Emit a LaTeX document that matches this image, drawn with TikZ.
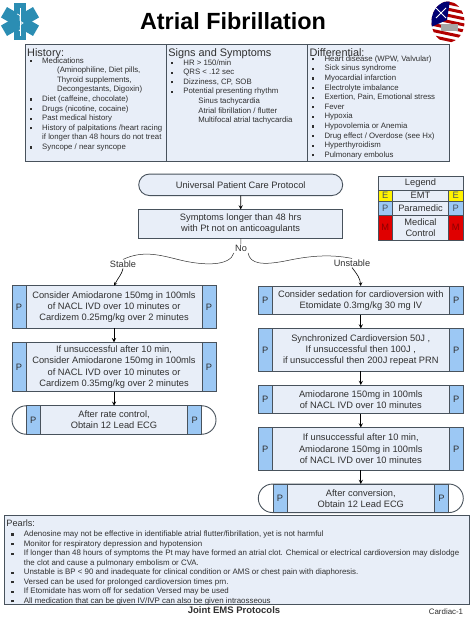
\documentclass[tikz,border=0pt]{standalone}
\usepackage{fontspec}
\setmainfont{Liberation Sans}
\usetikzlibrary{positioning}
\usetikzlibrary{shapes.misc}
\definecolor{boxfill}{HTML}{E8EEF8}
\definecolor{boxline}{HTML}{48525C}
\definecolor{pfill}{HTML}{9CC8F4}
\definecolor{inktext}{HTML}{303030}
\definecolor{starblue}{HTML}{2B8DB3}
\newcommand{\itm}[1][12.5pt]{\makebox[#1][l]{\rule[0.9pt]{2.1pt}{2.1pt}}}
\tikzset {
  flow node/.style = {
    draw = boxline,
    line width = 0.9pt,
    fill = boxfill,
    text = inktext,
    outer sep = 0,
    inner sep = 0,
    align = center,
    font = \fontsize{9.3}{11.2}\selectfont
  },
  % action box between the two side cells
  action/.style = {
    flow node,
    rectangle,
    minimum width = #1
  },
  % rounded start and end shapes
  term/.style = {
    flow node,
    rounded rectangle,
    minimum width = 204pt
  },
  pcell/.style = {
    flow node,
    rectangle,
    fill = pfill,
    minimum width = 14pt,
    font = \fontsize{9.3}{10}\selectfont\color{boxline}
  },
  % the three frames at the top and the pearls
  listbox/.style = {
    flow node,
    rectangle,
    anchor = north west,
    minimum width = #1
  },
  listtext/.style = {
    anchor = north west,
    align = left,
    inner sep = 0,
    text = inktext,
    font = \fontsize{7.8}{9.6}\selectfont
  },
  arr/.style = {
    draw = black,
    line width = 0.9pt,
    -stealth
  },
  narr/.style = {
    draw = inktext,
    line width = 0.5pt
  },
  branch/.style = {
    text = inktext,
    inner sep = 1pt,
    font = \fontsize{9.2}{10}\selectfont
  },
  legendcell/.style = {
    flow node,
    rectangle,
    minimum width = #1
  },
  node distance = 14pt
}
\begin{document}
\begin{tikzpicture}[x=1pt,y=-1pt]
  \useasboundingbox (0,0) rectangle (474,621);

  % logos
  \foreach \a in {0,60,120} {
    \fill[starblue,rotate around={\a:(20,21.5)}] (14,3) rectangle (26,40);
  }
  \draw[white,line width=1pt] (20,8) -- (20,36);
  \draw[white,line width=0.7pt] (17,14) .. controls (24,16) and (16,20) .. (23,23) .. controls (17,26) and (23,29) .. (19,31);
  \begin{scope}
    \clip (448,22) ellipse (16.5 and 20.5);
    \fill[white] (430,0) rectangle (466,44);
    \foreach \s in {0,1,...,6} {
      \fill[red!70!black,rotate around={-12:(448,22)}] (428,2+6*\s) rectangle (470,5+6*\s);
    }
    \fill[blue!45!black] (431,0) -- (450,0) -- (447,20) -- (431,27) -- cycle;
    \fill[gray!70] (441,24) rectangle (458,31);
    \draw[white,line width=1pt] (436,8) -- (446,18) (446,8) -- (436,18);
  \end{scope}

  \node[font=\fontsize{23.4}{26}\selectfont\bfseries] (title) at (233,21) {Atrial Fibrillation};

  % top lists
  \node[listbox=141.2pt,minimum height=117.5pt] (history) at (25.5,44) {};
  \node[listbox=141.2pt,minimum height=117.5pt,right=0pt of history.north east,anchor=north west] (signs) {};
  \node[listbox=141.2pt,minimum height=117.5pt,right=0pt of signs.north east,anchor=north west] (differential) {};
  \node[listtext] (history-text) at ([yshift=-3pt]history.north west) {%
    \rule{0pt}{9pt}\hspace*{1.5pt}{\fontsize{10.9}{10}\selectfont History:}\\[-2.8pt]
    \hspace*{4pt}\itm Medications\\
    \hspace*{31.5pt}(Aminophiline, Diet pills,\\
    \hspace*{31.5pt}Thyroid supplements,\\
    \hspace*{31.5pt}Decongestants, Digoxin)\\
    \hspace*{4pt}\itm Diet (caffeine, chocolate)\\
    \hspace*{4pt}\itm Drugs (nicotine, cocaine)\\
    \hspace*{4pt}\itm Past medical history\\
    \hspace*{4pt}\itm History of palpitations /heart racing\\
    \hspace*{16.5pt}if longer than 48 hours do not treat\\
    \hspace*{4pt}\itm Syncope / near syncope};
  \node[listtext] (signs-text) at ([yshift=-3pt]signs.north west) {%
    \rule{0pt}{9pt}\hspace*{1.5pt}{\fontsize{10.9}{10}\selectfont Signs and Symptoms}\\[-0.8pt]
    \hspace*{4pt}\itm HR > 150/min\\
    \hspace*{4pt}\itm QRS < .12 sec\\
    \hspace*{4pt}\itm Dizziness, CP, SOB\\
    \hspace*{4pt}\itm Potential presenting rhythm\\
    \hspace*{31.5pt}Sinus tachycardia\\
    \hspace*{31.5pt}Atrial fibrillation / flutter\\
    \hspace*{31.5pt}Multifocal atrial tachycardia};
  \node[listtext] (differential-text) at ([yshift=-3pt]differential.north west) {%
    \rule{0pt}{9pt}\hspace*{1.5pt}{\fontsize{10.9}{10}\selectfont Differential:}\\[-4.6pt]
    \hspace*{4pt}\itm Heart disease (WPW, Valvular)\\
    \hspace*{4pt}\itm Sick sinus syndrome\\
    \hspace*{4pt}\itm Myocardial infarction\\
    \hspace*{4pt}\itm Electrolyte imbalance\\
    \hspace*{4pt}\itm Exertion, Pain, Emotional stress\\
    \hspace*{4pt}\itm Fever\\
    \hspace*{4pt}\itm Hypoxia\\
    \hspace*{4pt}\itm Hypovolemia or Anemia\\
    \hspace*{4pt}\itm Drug effect /  Overdose (see Hx)\\
    \hspace*{4pt}\itm Hyperthyroidism\\
    \hspace*{4pt}\itm Pulmonary embolus};

  % trunk
  \node[term,minimum height=21.5pt] (protocol) at (240.7,184.8) {Universal Patient Care Protocol};
  \node[action=204pt,minimum height=28.5pt,below=of protocol] (symptoms) {Symptoms longer than 48 hrs\\with Pt not on anticoagulants};
  \node[branch] (no) at (241,248.5) {No};
  \node[branch] (stable) at (123,264) {Stable};
  \node[branch] (unstable) at (352,263) {Unstable};

  % stable side
  \node[action=176pt,minimum height=42.5pt] (stable-a) at (114,307) {Consider Amiodarone 150mg in 100mls\\of NACL IVD over 10 minutes or\\Cardizem 0.25mg/kg over 2 minutes};
  \node[action=176pt,minimum height=49.5pt,below=of stable-a] (stable-b) {If unsuccessful after 10 min,\\Consider Amiodarone 150mg in 100mls\\of NACL IVD over 10 minutes or\\Cardizem 0.35mg/kg over 2 minutes};
  \node[term,fill=white,minimum height=28.5pt,below=of stable-b] (stable-end) {};
  \node[action=147.5pt,minimum height=28.5pt] (stable-end-text) at (stable-end) {After rate control,\\Obtain 12 Lead ECG};

  % unstable side
  \node[action=177pt,minimum height=28.5pt] (unstable-a) at (360.8,300.3) {Consider sedation for cardioversion with\\Etomidate 0.3mg/kg 30 mg IV};
  \node[action=177pt,minimum height=42.5pt,below=of unstable-a] (unstable-b) {Synchronized Cardioversion 50J ,\\If unsuccessful then 100J ,\\if unsuccessful then 200J repeat PRN};
  \node[action=177pt,minimum height=28.5pt,below=of unstable-b] (unstable-c) {Amiodarone 150mg in 100mls\\of NACL IVD over 10 minutes};
  \node[action=177pt,minimum height=42.5pt,below=of unstable-c] (unstable-d) {If unsuccessful after 10 min,\\Amiodarone 150mg in 100mls\\of NACL IVD over 10 minutes};
  \node[term,fill=white,minimum width=205pt,minimum height=28.5pt,below=of unstable-d] (unstable-end) {};
  \node[action=147.5pt,minimum height=28.5pt] (unstable-end-text) at (unstable-end) {After conversion,\\Obtain 12 Lead ECG};

  % paramedic cells on both sides of each box
  \foreach \n/\h in {stable-a/42.5,stable-b/49.5,stable-end-text/28.5,unstable-a/28.5,unstable-b/42.5,unstable-c/28.5,unstable-d/42.5,unstable-end-text/28.5} {
    \node[pcell,minimum height=\h pt,left=0pt of \n] (\n-l) {P};
    \node[pcell,minimum height=\h pt,right=0pt of \n] (\n-r) {P};
  }

  \draw[arr] (protocol) -- (symptoms);
  \draw[narr] (symptoms) -- (no);
  \draw[narr] (no.south west) .. controls (230,266) and (205,266) .. (180,260) .. controls (160,255) and (143,250) .. (stable.north);
  \draw[narr] (no.south east) .. controls (250,264) and (262,266) .. (290,260) .. controls (310,256) and (330,254) .. (unstable.north);
  \draw[arr,line width=0.6pt] (stable.south) .. controls (122,274) and (118,278) .. (stable-a.north);
  \draw[arr,line width=0.6pt] (unstable.south) .. controls (357,274) and (360,278) .. (unstable-a.north);
  \draw[arr] (stable-a) -- (stable-b);
  \draw[arr] (stable-b) -- (stable-end);
  \draw[arr] (unstable-a) -- (unstable-b);
  \draw[arr] (unstable-b) -- (unstable-c);
  \draw[arr] (unstable-c) -- (unstable-d);
  \draw[arr] (unstable-d) -- (unstable-end);

  % legend
  \node[legendcell=85pt,minimum height=14pt] (legend) at (420.5,183) {Legend};
  \node[legendcell=56pt,minimum height=11.5pt,below=0pt of legend] (legend-emt) {EMT};
  \node[legendcell=56pt,minimum height=13.5pt,below=0pt of legend-emt] (legend-para) {Paramedic};
  \node[legendcell=56pt,minimum height=25pt,below=0pt of legend-para] (legend-med) {Medical\\Control};
  \foreach \n/\c/\t/\k/\h in {legend-emt/yellow/E/boxline/11.5,legend-para/pfill/P/boxline/13.5,legend-med/red!88!black/M/red!55!black/25} {
    \node[legendcell=14.5pt,fill=\c,minimum height=\h pt,left=0pt of \n] (\n-l) {\textcolor{\k}{\t}};
    \node[legendcell=14.5pt,fill=\c,minimum height=\h pt,right=0pt of \n] (\n-r) {\textcolor{\k}{\t}};
  }

  % pearls
  \node[listbox=464.4pt,minimum height=89pt] (pearls) at (4.7,515) {};
  \node[listtext,font=\fontsize{7.9}{9.55}\selectfont] (pearls-text) at ([yshift=-3pt]pearls.north west) {%
    \rule{0pt}{8.5pt}\hspace*{1.5pt}{\fontsize{9.2}{9}\selectfont Pearls:}\\[0.2pt]
    \hspace*{6.5pt}\itm Adenosine may not be effective in identifiable atrial flutter/fibrillation, yet is not harmful\\
    \hspace*{6.5pt}\itm Monitor for respiratory depression and hypotension\\
    \hspace*{6.5pt}\itm If longer than 48 hours of symptoms the Pt may have formed an atrial clot.  Chemical or electrical cardioversion may dislodge\\
    \hspace*{19pt}the clot and cause a pulmonary embolism or CVA.\\
    \hspace*{6.5pt}\itm Unstable is BP < 90 and inadequate for clinical condition or AMS or chest pain with diaphoresis.\\
    \hspace*{6.5pt}\itm Versed can be used for prolonged cardioversion times prn.\\
    \hspace*{6.5pt}\itm If Etomidate has worn off for sedation Versed may be used\\
    \hspace*{6.5pt}\itm All medication that can be given IV/IVP can also be given intraosseous};
  \node[font=\fontsize{9.5}{10}\selectfont\bfseries,text=inktext] (joint) at (234,610) {Joint EMS Protocols};
  \node[font=\fontsize{7.9}{9}\selectfont,text=inktext] (page) at (446,612) {Cardiac-1};
\end{tikzpicture}
\end{document}
